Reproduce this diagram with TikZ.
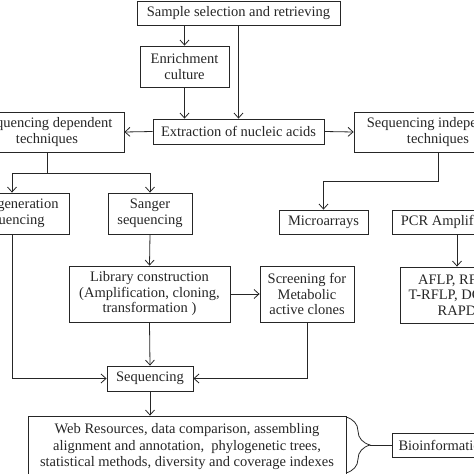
\documentclass[tikz,border=0pt]{standalone}
\usepackage{fontspec}
\setmainfont{Liberation Serif}
\usepackage{tikz}
\usetikzlibrary{arrows.meta}
\usetikzlibrary{decorations.pathreplacing}

\tikzset{
  box/.style={draw=black!85, line width=0.8pt, align=center, inner sep=1pt,
    text=black!85, font=\fontsize{14.5}{15.5}\selectfont},
  link/.style={-{Straight Barb[length=5pt,width=9pt]}, draw=black!85, line width=0.8pt}
}

\begin{document}
\begin{tikzpicture}[x=1pt,y=-1pt]
    \useasboundingbox (0,0) rectangle (474,474);
    \clip (0,0) rectangle (474,474);

    % Top of the chart
    \node[box, minimum width=203pt, minimum height=24pt] (sample) at (238.5,13) {Sample selection and retrieving};
    \node[box, minimum width=89pt, minimum height=41pt] (enrich) at (184.5,66.5) {Enrichment\\culture};
    \node[box, minimum width=171pt, minimum height=25pt] (extract) at (238.5,131.5) {Extraction of nucleic acids};

    % Two families of techniques
    \node[box, minimum width=154pt, minimum height=40pt] (seqdep) at (47,132) {Sequencing dependent\\techniques};
    \node[box, minimum width=168pt, minimum height=40pt] (seqind) at (438,132) {Sequencing independent\\techniques};

    % Sequencing dependent branch
    \node[box, minimum width=114pt, minimum height=41pt] (nextgen) at (12,213.5) {Next generation\\sequencing};
    \node[box, minimum width=84pt, minimum height=41pt] (sanger) at (150,213.5) {Sanger\\sequencing};
    \node[box, minimum width=161pt, minimum height=56pt] (library) at (149.5,294) {Library construction\\(Amplification, cloning,\\transformation )};
    \node[box, minimum width=94pt, minimum height=56pt] (screen) at (307,294) {Screening for\\Metabolic\\active clones};
    \node[box, minimum width=86pt, minimum height=25pt] (seqing) at (150,378.5) {Sequencing};

    % Sequencing independent branch
    \node[box, minimum width=89pt, minimum height=24pt] (micro) at (323.5,222) {Microarrays};
    \node[box, minimum width=130pt, minimum height=24pt] (pcr) at (457,222) {PCR Amplification};
    \node[box, minimum width=114pt, minimum height=56pt] (aflp) at (457,295) {AFLP, RFLP,\\T-RFLP, DGGE,\\RAPD};

    % Bioinformatics
    \node[box, minimum width=318pt, minimum height=62pt] (web) at (187,447) {Web Resources, data comparison, assembling\\[1pt]alignment and annotation,~ phylogenetic trees,\\[1pt]statistical methods, diversity and coverage indexes};
    \node[box, minimum width=100pt, minimum height=24pt] (bio) at (442,445) {Bioinformatics};

    % Helper points
    \coordinate (depjoin) at (0,173);
    \coordinate (indjoin) at (0,181);
    \coordinate (bracetip) at (370,445);

    % Connectors
    \draw[link] (sample.south -| enrich.north) -- (enrich.north);
    \draw[link] (sample.south) -- (extract.north);
    \draw[link] (enrich.south) -- (enrich.south |- extract.north);
    \draw[link] (extract.west) -- (seqdep.east);
    \draw[link] (extract.east) -- (seqind.west);

    \draw[link] (seqdep.south) -- (seqdep.south |- depjoin) -| (nextgen.north);
    \draw[link] (seqdep.south) -- (seqdep.south |- depjoin) -| (sanger.north);
    \draw[link] (sanger.south) -- (library.north);
    \draw[link] (library.east) -- (screen.west);
    \draw[link] (library.south) -- (seqing.north);
    \draw[link] (nextgen.south) |- (seqing.west);
    \draw[link] (screen.south) |- (seqing.east);
    \draw[link] (seqing.south) -- (seqing.south |- web.north);

    \draw[link] (seqind.south) -- (seqind.south |- indjoin) -| (micro.north);
    \draw[link] (pcr.south) -- (aflp.north);

    % Brace towards bioinformatics
    \draw[draw=black!85, line width=0.8pt, decorate, decoration={brace, amplitude=24pt}] (346,417) -- (346,473);
    \draw[draw=black!85, line width=0.8pt] (bracetip) -- (bio.west);
\end{tikzpicture}
\end{document}
